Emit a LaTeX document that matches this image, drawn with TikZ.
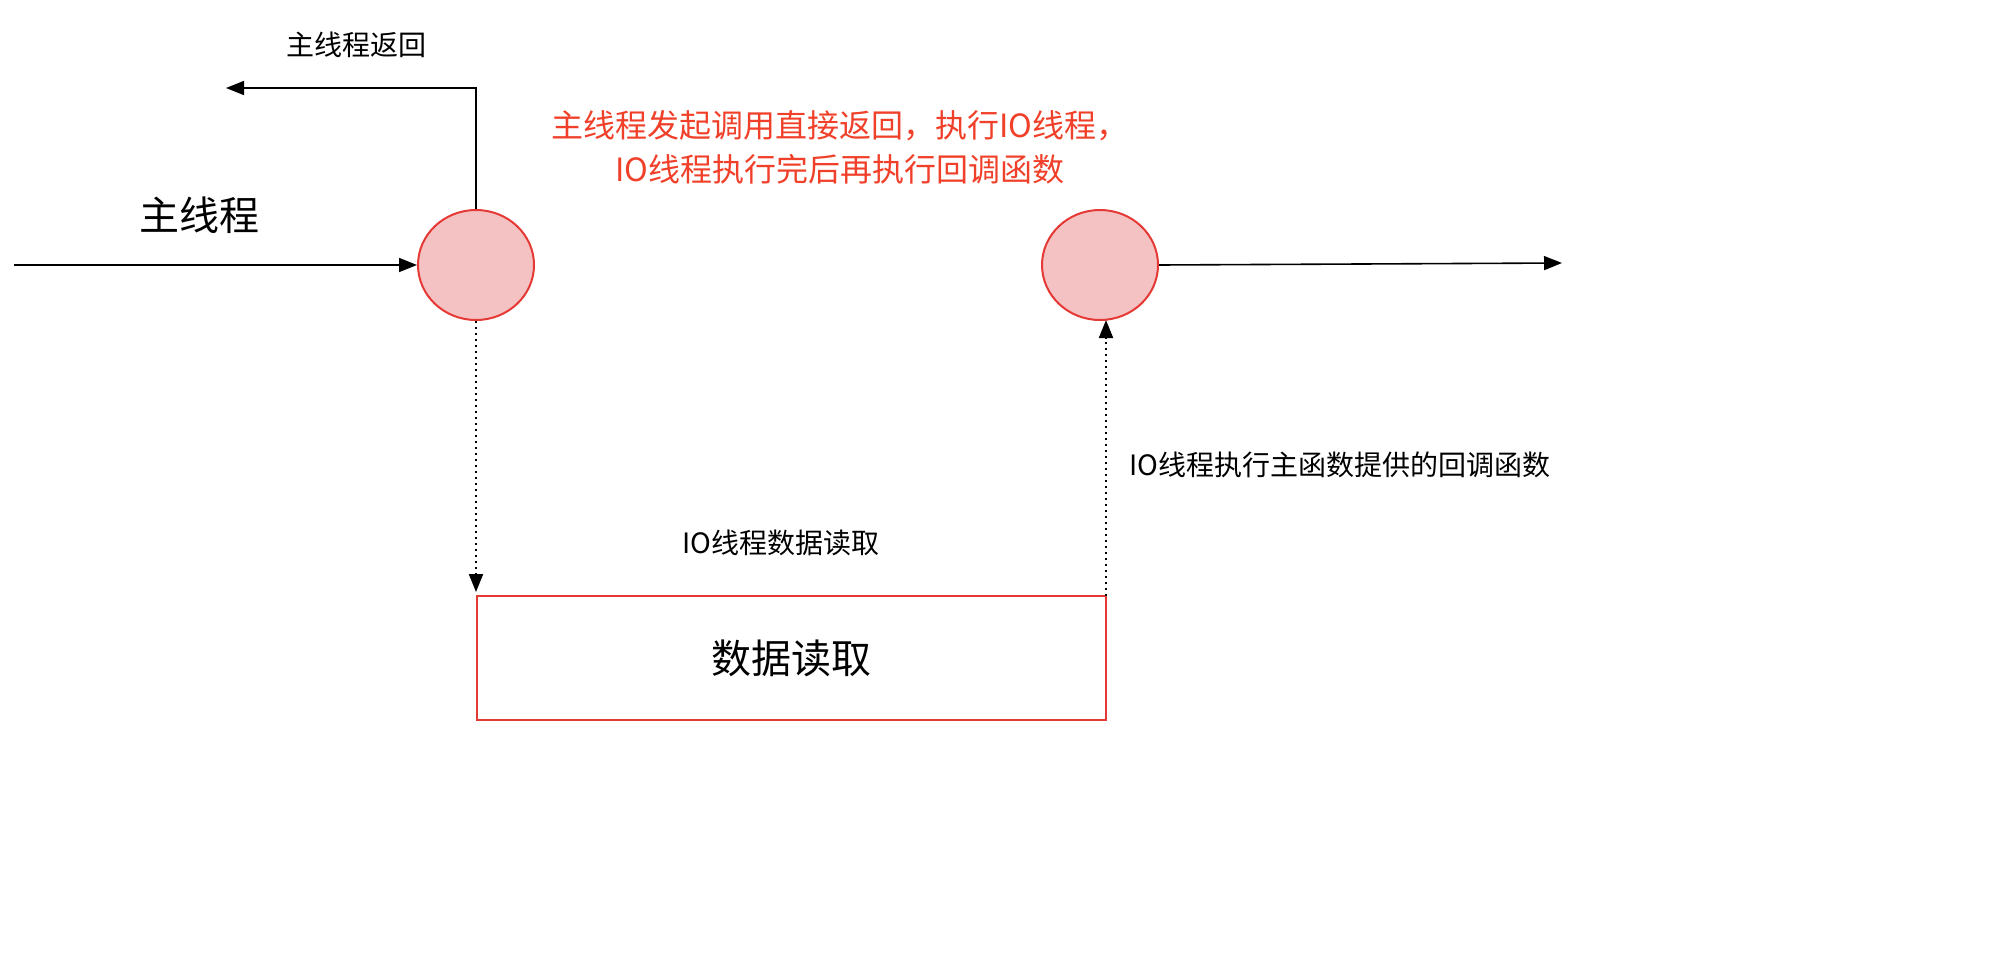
\documentclass[tikz,border=0pt]{standalone}
\usepackage{fontspec}
\setmainfont{Noto Sans CJK SC}
\usetikzlibrary{shapes.geometric,arrows.meta}
\definecolor{callred}{HTML}{E53935}
\definecolor{callpink}{HTML}{F4C2C2}
\definecolor{notered}{HTML}{F0402A}
\tikzset{
  callpt/.style={ellipse, draw=callred, fill=callpink, line width=1pt, minimum width=58pt, minimum height=55pt},
  readbox/.style={rectangle, draw=callred, line width=1pt, minimum width=314.5pt, minimum height=62pt},
  flow/.style={-{Triangle[length=9pt,width=7pt]}, line width=0.8pt},
  iodot/.style={-{Triangle[length=9pt,width=7pt]}, line width=1pt, dotted}
}
\begin{document}
\begin{tikzpicture}[x=0.5pt,y=-0.5pt]
    \useasboundingbox (0,0) rectangle (2016,958);

    % Calls
    \node[callpt] (start) at (476,265) {};
    \node[callpt] (done) at (1100,265) {};
    \node[readbox, font=\fontsize{20}{24}\selectfont] (read) at (791.5,658) {数据读取};

    % Main thread
    \coordinate (in) at (14,265);
    \coordinate (corner) at (476,88);
    \coordinate (back) at (226,88);
    \coordinate (out) at (1562,263);
    \draw[flow] (in) -- (start.west);
    \draw[flow] (start.north) -- (corner) -- (back);
    \draw[flow] (done.east) -- (out);

    % IO thread
    \coordinate (readtop) at (476,592);
    \coordinate (readend) at (1106,596);
    \coordinate (cbend) at (1106,320);
    \draw[iodot] (start.south) -- (readtop);
    \draw[iodot] (readend) -- (cbend);

    % Labels
    \node[font=\fontsize{20}{24}\selectfont] (mainlbl) at (199,215) {主线程};
    \node[font=\fontsize{14}{17}\selectfont] (retlbl) at (356,45) {主线程返回};
    \node[text=notered, align=center, font=\fontsize{16}{22}\selectfont] (note) at (840,147)
        {主线程发起调用直接返回，执行IO线程，\\ IO线程执行完后再执行回调函数};
    \node[font=\fontsize{14}{17}\selectfont] (iolbl) at (781,543) {IO线程数据读取};
    \node[font=\fontsize{14}{17}\selectfont] (cblbl) at (1340,465) {IO线程执行主函数提供的回调函数};
\end{tikzpicture}
\end{document}
